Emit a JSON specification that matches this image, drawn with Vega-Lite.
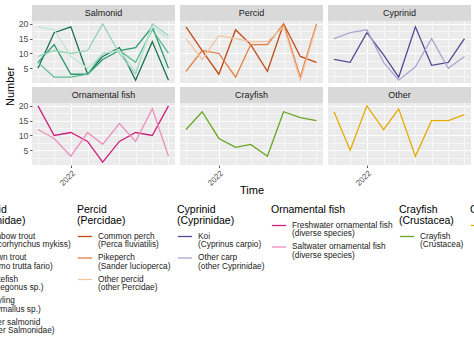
{
  "$schema": "https://vega.github.io/schema/vega-lite/v6.json",
  "padding": {"left": -37, "top": 5, "right": 0, "bottom": 0},
  "datasets": {
    "salmonid": [
      {"species": "Rainbow trout (Oncorhynchus mykiss)", "date": "2021-11-01T00:00", "n": 5},
      {"species": "Rainbow trout (Oncorhynchus mykiss)", "date": "2021-12-01T00:00", "n": 17},
      {"species": "Rainbow trout (Oncorhynchus mykiss)", "date": "2022-01-01T00:00", "n": 19},
      {"species": "Rainbow trout (Oncorhynchus mykiss)", "date": "2022-02-01T00:00", "n": 3},
      {"species": "Rainbow trout (Oncorhynchus mykiss)", "date": "2022-03-01T00:00", "n": 9},
      {"species": "Rainbow trout (Oncorhynchus mykiss)", "date": "2022-04-01T00:00", "n": 12},
      {"species": "Rainbow trout (Oncorhynchus mykiss)", "date": "2022-05-01T00:00", "n": 1},
      {"species": "Rainbow trout (Oncorhynchus mykiss)", "date": "2022-06-01T00:00", "n": 14},
      {"species": "Rainbow trout (Oncorhynchus mykiss)", "date": "2022-07-01T00:00", "n": 1},
      {"species": "Brown trout (Salmo trutta fario)", "date": "2021-11-01T00:00", "n": 7},
      {"species": "Brown trout (Salmo trutta fario)", "date": "2021-12-01T00:00", "n": 13},
      {"species": "Brown trout (Salmo trutta fario)", "date": "2022-01-01T00:00", "n": 3},
      {"species": "Brown trout (Salmo trutta fario)", "date": "2022-02-01T00:00", "n": 3},
      {"species": "Brown trout (Salmo trutta fario)", "date": "2022-03-01T00:00", "n": 8},
      {"species": "Brown trout (Salmo trutta fario)", "date": "2022-04-01T00:00", "n": 11},
      {"species": "Brown trout (Salmo trutta fario)", "date": "2022-05-01T00:00", "n": 12},
      {"species": "Brown trout (Salmo trutta fario)", "date": "2022-06-01T00:00", "n": 19},
      {"species": "Brown trout (Salmo trutta fario)", "date": "2022-07-01T00:00", "n": 5},
      {"species": "Whitefish (Coregonus sp.)", "date": "2021-11-01T00:00", "n": 7},
      {"species": "Whitefish (Coregonus sp.)", "date": "2021-12-01T00:00", "n": 2},
      {"species": "Whitefish (Coregonus sp.)", "date": "2022-01-01T00:00", "n": 2},
      {"species": "Whitefish (Coregonus sp.)", "date": "2022-02-01T00:00", "n": 3},
      {"species": "Whitefish (Coregonus sp.)", "date": "2022-03-01T00:00", "n": 10},
      {"species": "Whitefish (Coregonus sp.)", "date": "2022-04-01T00:00", "n": 11},
      {"species": "Whitefish (Coregonus sp.)", "date": "2022-05-01T00:00", "n": 7},
      {"species": "Whitefish (Coregonus sp.)", "date": "2022-06-01T00:00", "n": 18},
      {"species": "Whitefish (Coregonus sp.)", "date": "2022-07-01T00:00", "n": 10},
      {"species": "Grayling (Thymallus sp.)", "date": "2021-11-01T00:00", "n": 9},
      {"species": "Grayling (Thymallus sp.)", "date": "2021-12-01T00:00", "n": 11},
      {"species": "Grayling (Thymallus sp.)", "date": "2022-01-01T00:00", "n": 10},
      {"species": "Grayling (Thymallus sp.)", "date": "2022-02-01T00:00", "n": 11},
      {"species": "Grayling (Thymallus sp.)", "date": "2022-03-01T00:00", "n": 20},
      {"species": "Grayling (Thymallus sp.)", "date": "2022-04-01T00:00", "n": 10},
      {"species": "Grayling (Thymallus sp.)", "date": "2022-05-01T00:00", "n": 3},
      {"species": "Grayling (Thymallus sp.)", "date": "2022-06-01T00:00", "n": 20},
      {"species": "Grayling (Thymallus sp.)", "date": "2022-07-01T00:00", "n": 16},
      {"species": "Other salmonid (other Salmonidae)", "date": "2021-11-01T00:00", "n": 19},
      {"species": "Other salmonid (other Salmonidae)", "date": "2021-12-01T00:00", "n": 18},
      {"species": "Other salmonid (other Salmonidae)", "date": "2022-01-01T00:00", "n": 9},
      {"species": "Other salmonid (other Salmonidae)", "date": "2022-02-01T00:00", "n": 5},
      {"species": "Other salmonid (other Salmonidae)", "date": "2022-03-01T00:00", "n": 10},
      {"species": "Other salmonid (other Salmonidae)", "date": "2022-04-01T00:00", "n": 11},
      {"species": "Other salmonid (other Salmonidae)", "date": "2022-05-01T00:00", "n": 4},
      {"species": "Other salmonid (other Salmonidae)", "date": "2022-06-01T00:00", "n": 19},
      {"species": "Other salmonid (other Salmonidae)", "date": "2022-07-01T00:00", "n": 15}
    ],
    "percid": [
      {"species": "Common perch (Perca fluviatilis)", "date": "2021-11-01T00:00", "n": 19},
      {"species": "Common perch (Perca fluviatilis)", "date": "2021-12-01T00:00", "n": 11},
      {"species": "Common perch (Perca fluviatilis)", "date": "2022-01-01T00:00", "n": 3},
      {"species": "Common perch (Perca fluviatilis)", "date": "2022-02-01T00:00", "n": 18},
      {"species": "Common perch (Perca fluviatilis)", "date": "2022-03-01T00:00", "n": 13},
      {"species": "Common perch (Perca fluviatilis)", "date": "2022-04-01T00:00", "n": 4},
      {"species": "Common perch (Perca fluviatilis)", "date": "2022-05-01T00:00", "n": 20},
      {"species": "Common perch (Perca fluviatilis)", "date": "2022-06-01T00:00", "n": 9},
      {"species": "Common perch (Perca fluviatilis)", "date": "2022-07-01T00:00", "n": 7},
      {"species": "Pikeperch (Sander lucioperca)", "date": "2021-11-01T00:00", "n": 4},
      {"species": "Pikeperch (Sander lucioperca)", "date": "2021-12-01T00:00", "n": 11},
      {"species": "Pikeperch (Sander lucioperca)", "date": "2022-01-01T00:00", "n": 10},
      {"species": "Pikeperch (Sander lucioperca)", "date": "2022-02-01T00:00", "n": 2},
      {"species": "Pikeperch (Sander lucioperca)", "date": "2022-03-01T00:00", "n": 13},
      {"species": "Pikeperch (Sander lucioperca)", "date": "2022-04-01T00:00", "n": 13},
      {"species": "Pikeperch (Sander lucioperca)", "date": "2022-05-01T00:00", "n": 20},
      {"species": "Pikeperch (Sander lucioperca)", "date": "2022-06-01T00:00", "n": 2},
      {"species": "Pikeperch (Sander lucioperca)", "date": "2022-07-01T00:00", "n": 20},
      {"species": "Other percid (other Percidae)", "date": "2021-11-01T00:00", "n": 15},
      {"species": "Other percid (other Percidae)", "date": "2021-12-01T00:00", "n": 8},
      {"species": "Other percid (other Percidae)", "date": "2022-01-01T00:00", "n": 16},
      {"species": "Other percid (other Percidae)", "date": "2022-02-01T00:00", "n": 15},
      {"species": "Other percid (other Percidae)", "date": "2022-03-01T00:00", "n": 14},
      {"species": "Other percid (other Percidae)", "date": "2022-04-01T00:00", "n": 14},
      {"species": "Other percid (other Percidae)", "date": "2022-05-01T00:00", "n": 19},
      {"species": "Other percid (other Percidae)", "date": "2022-06-01T00:00", "n": 1},
      {"species": "Other percid (other Percidae)", "date": "2022-07-01T00:00", "n": 19}
    ],
    "cyprinid": [
      {"species": "Koi (Cyprinus carpio)", "date": "2021-11-01T00:00", "n": 8},
      {"species": "Koi (Cyprinus carpio)", "date": "2021-12-01T00:00", "n": 7},
      {"species": "Koi (Cyprinus carpio)", "date": "2022-01-01T00:00", "n": 17},
      {"species": "Koi (Cyprinus carpio)", "date": "2022-02-01T00:00", "n": 9.5},
      {"species": "Koi (Cyprinus carpio)", "date": "2022-03-01T00:00", "n": 2},
      {"species": "Koi (Cyprinus carpio)", "date": "2022-04-01T00:00", "n": 19},
      {"species": "Koi (Cyprinus carpio)", "date": "2022-05-01T00:00", "n": 6},
      {"species": "Koi (Cyprinus carpio)", "date": "2022-06-01T00:00", "n": 7},
      {"species": "Koi (Cyprinus carpio)", "date": "2022-07-01T00:00", "n": 15},
      {"species": "Other carp (other Cyprinidae)", "date": "2021-11-01T00:00", "n": 15},
      {"species": "Other carp (other Cyprinidae)", "date": "2021-12-01T00:00", "n": 17},
      {"species": "Other carp (other Cyprinidae)", "date": "2022-01-01T00:00", "n": 18},
      {"species": "Other carp (other Cyprinidae)", "date": "2022-02-01T00:00", "n": 7},
      {"species": "Other carp (other Cyprinidae)", "date": "2022-03-01T00:00", "n": 1},
      {"species": "Other carp (other Cyprinidae)", "date": "2022-04-01T00:00", "n": 5.5},
      {"species": "Other carp (other Cyprinidae)", "date": "2022-05-01T00:00", "n": 15},
      {"species": "Other carp (other Cyprinidae)", "date": "2022-06-01T00:00", "n": 5},
      {"species": "Other carp (other Cyprinidae)", "date": "2022-07-01T00:00", "n": 9}
    ],
    "ornamental": [
      {"species": "Freshwater ornamental fish (diverse species)", "date": "2021-11-01T00:00", "n": 20},
      {"species": "Freshwater ornamental fish (diverse species)", "date": "2021-12-01T00:00", "n": 10},
      {"species": "Freshwater ornamental fish (diverse species)", "date": "2022-01-01T00:00", "n": 11},
      {"species": "Freshwater ornamental fish (diverse species)", "date": "2022-02-01T00:00", "n": 8},
      {"species": "Freshwater ornamental fish (diverse species)", "date": "2022-03-01T00:00", "n": 1},
      {"species": "Freshwater ornamental fish (diverse species)", "date": "2022-04-01T00:00", "n": 8},
      {"species": "Freshwater ornamental fish (diverse species)", "date": "2022-05-01T00:00", "n": 11},
      {"species": "Freshwater ornamental fish (diverse species)", "date": "2022-06-01T00:00", "n": 10},
      {"species": "Freshwater ornamental fish (diverse species)", "date": "2022-07-01T00:00", "n": 20},
      {"species": "Saltwater ornamental fish (diverse species)", "date": "2021-11-01T00:00", "n": 12},
      {"species": "Saltwater ornamental fish (diverse species)", "date": "2021-12-01T00:00", "n": 9},
      {"species": "Saltwater ornamental fish (diverse species)", "date": "2022-01-01T00:00", "n": 3},
      {"species": "Saltwater ornamental fish (diverse species)", "date": "2022-02-01T00:00", "n": 11},
      {"species": "Saltwater ornamental fish (diverse species)", "date": "2022-03-01T00:00", "n": 7},
      {"species": "Saltwater ornamental fish (diverse species)", "date": "2022-04-01T00:00", "n": 14},
      {"species": "Saltwater ornamental fish (diverse species)", "date": "2022-05-01T00:00", "n": 8},
      {"species": "Saltwater ornamental fish (diverse species)", "date": "2022-06-01T00:00", "n": 19},
      {"species": "Saltwater ornamental fish (diverse species)", "date": "2022-07-01T00:00", "n": 3}
    ],
    "crayfish": [
      {"species": "Crayfish (Crustacea)", "date": "2021-11-01T00:00", "n": 12},
      {"species": "Crayfish (Crustacea)", "date": "2021-12-01T00:00", "n": 18},
      {"species": "Crayfish (Crustacea)", "date": "2022-01-01T00:00", "n": 9},
      {"species": "Crayfish (Crustacea)", "date": "2022-02-01T00:00", "n": 6},
      {"species": "Crayfish (Crustacea)", "date": "2022-03-01T00:00", "n": 7},
      {"species": "Crayfish (Crustacea)", "date": "2022-04-01T00:00", "n": 3},
      {"species": "Crayfish (Crustacea)", "date": "2022-05-01T00:00", "n": 18},
      {"species": "Crayfish (Crustacea)", "date": "2022-06-01T00:00", "n": 16},
      {"species": "Crayfish (Crustacea)", "date": "2022-07-01T00:00", "n": 15}
    ],
    "other": [
      {"species": "Other (other fishes)", "date": "2021-11-01T00:00", "n": 18},
      {"species": "Other (other fishes)", "date": "2021-12-01T00:00", "n": 5},
      {"species": "Other (other fishes)", "date": "2022-01-01T00:00", "n": 20},
      {"species": "Other (other fishes)", "date": "2022-02-01T00:00", "n": 12},
      {"species": "Other (other fishes)", "date": "2022-03-01T00:00", "n": 19},
      {"species": "Other (other fishes)", "date": "2022-04-01T00:00", "n": 3},
      {"species": "Other (other fishes)", "date": "2022-05-01T00:00", "n": 15},
      {"species": "Other (other fishes)", "date": "2022-06-01T00:00", "n": 15},
      {"species": "Other (other fishes)", "date": "2022-07-01T00:00", "n": 17}
    ]
  },
  "concat": [
    {
      "width": 143, "height": 78, "view": {"fill": "#ebebeb"},
      "layer": [
        {"data": {"name": "salmonid"}, "mark": {"type": "line", "strokeWidth": 1.3},
         "encoding": {
           "x": {"field": "date", "type": "temporal", "scale": {"domain": [{"year": 2021, "month": 10, "date": 20, "hours": 21, "minutes": 36}, {"year": 2022, "month": 7, "date": 13, "hours": 2, "minutes": 24}], "nice": false},
                 "axis": {"values": [{"year": 2021, "month": 11, "date": 1}, {"year": 2021, "month": 12, "date": 1}, {"year": 2022, "month": 1, "date": 1}, {"year": 2022, "month": 2, "date": 1}, {"year": 2022, "month": 3, "date": 1}, {"year": 2022, "month": 4, "date": 1}, {"year": 2022, "month": 5, "date": 1}, {"year": 2022, "month": 6, "date": 1}, {"year": 2022, "month": 7, "date": 1}],
                          "labels": false, "ticks": false, "domain": false, "grid": true, "gridColor": "#ffffff", "gridWidth": {"condition": {"test": "month(datum.value) == 0", "value": 1.1}, "value": 0.55}, "title": null}},
           "y": {"field": "n", "type": "quantitative", "scale": {"domain": [0.05, 26.344], "nice": false, "zero": false},
                 "axis": {"values": [2.5, 5, 7.5, 10, 12.5, 15, 17.5, 20], "labelExpr": "datum.value % 5 == 0 ? datum.label : ''", "labelOverlap": false, "domain": false, "grid": true, "gridColor": "#ffffff", "gridWidth": {"condition": {"test": "datum.value % 5 == 0", "value": 1.1}, "value": 0.55}, "tickSize": 2.5, "tickColor": "#333333", "tickWidth": 0.8, "tickOpacity": {"condition": {"test": "datum.value % 5 == 0", "value": 1}, "value": 0}, "labelPadding": 1.5, "labelFontSize": 8.8, "labelColor": "#4d4d4d", "title": "Number", "titleY": 81, "titleFontSize": 11, "titleColor": "#000000", "titleFontWeight": "normal", "titlePadding": 3}},
           "color": {"field": "species", "type": "nominal", "legend": null,
                     "scale": {"domain": ["Rainbow trout (Oncorhynchus mykiss)", "Brown trout (Salmo trutta fario)", "Whitefish (Coregonus sp.)", "Grayling (Thymallus sp.)", "Other salmonid (other Salmonidae)"], "range": ["#17704f", "#2a9a72", "#5bbb97", "#95d3bb", "#c0e6d6"]}}
         }},
        {"data": {"values": [{"family": "Salmonid"}]}, "mark": {"type": "rect", "color": "#d9d9d9"},
         "encoding": {"y": {"datum": 20.95, "type": "quantitative",
                 "axis": {"values": [2.5, 5, 7.5, 10, 12.5, 15, 17.5, 20], "labelExpr": "datum.value % 5 == 0 ? datum.label : ''", "labelOverlap": false, "domain": false, "grid": true, "gridColor": "#ffffff", "gridWidth": {"condition": {"test": "datum.value % 5 == 0", "value": 1.1}, "value": 0.55}, "tickSize": 2.5, "tickColor": "#333333", "tickWidth": 0.8, "tickOpacity": {"condition": {"test": "datum.value % 5 == 0", "value": 1}, "value": 0}, "labelPadding": 1.5, "labelFontSize": 8.8, "labelColor": "#4d4d4d", "title": "Number", "titleY": 81, "titleFontSize": 11, "titleColor": "#000000", "titleFontWeight": "normal", "titlePadding": 3}},
                      "y2": {"datum": 26.344}}},
        {"data": {"values": [{"family": "Salmonid"}]}, "mark": {"type": "text", "fontSize": 9, "color": "#1a1a1a"},
         "encoding": {"y": {"datum": 23.65, "type": "quantitative",
                 "axis": {"values": [2.5, 5, 7.5, 10, 12.5, 15, 17.5, 20], "labelExpr": "datum.value % 5 == 0 ? datum.label : ''", "labelOverlap": false, "domain": false, "grid": true, "gridColor": "#ffffff", "gridWidth": {"condition": {"test": "datum.value % 5 == 0", "value": 1.1}, "value": 0.55}, "tickSize": 2.5, "tickColor": "#333333", "tickWidth": 0.8, "tickOpacity": {"condition": {"test": "datum.value % 5 == 0", "value": 1}, "value": 0}, "labelPadding": 1.5, "labelFontSize": 8.8, "labelColor": "#4d4d4d", "title": "Number", "titleY": 81, "titleFontSize": 11, "titleColor": "#000000", "titleFontWeight": "normal", "titlePadding": 3}},
                      "text": {"field": "family"}}}
      ]
    },
    {
      "width": 143, "height": 78, "view": {"fill": "#ebebeb"},
      "layer": [
        {"data": {"name": "percid"}, "mark": {"type": "line", "strokeWidth": 1.3},
         "encoding": {
           "x": {"field": "date", "type": "temporal", "scale": {"domain": [{"year": 2021, "month": 10, "date": 20, "hours": 21, "minutes": 36}, {"year": 2022, "month": 7, "date": 13, "hours": 2, "minutes": 24}], "nice": false},
                 "axis": {"values": [{"year": 2021, "month": 11, "date": 1}, {"year": 2021, "month": 12, "date": 1}, {"year": 2022, "month": 1, "date": 1}, {"year": 2022, "month": 2, "date": 1}, {"year": 2022, "month": 3, "date": 1}, {"year": 2022, "month": 4, "date": 1}, {"year": 2022, "month": 5, "date": 1}, {"year": 2022, "month": 6, "date": 1}, {"year": 2022, "month": 7, "date": 1}],
                          "labels": false, "ticks": false, "domain": false, "grid": true, "gridColor": "#ffffff", "gridWidth": {"condition": {"test": "month(datum.value) == 0", "value": 1.1}, "value": 0.55}, "title": null}},
           "y": {"field": "n", "type": "quantitative", "scale": {"domain": [0.05, 26.344], "nice": false, "zero": false},
                 "axis": {"values": [2.5, 5, 7.5, 10, 12.5, 15, 17.5, 20], "labels": false, "ticks": false, "domain": false, "grid": true, "gridColor": "#ffffff", "gridWidth": {"condition": {"test": "datum.value % 5 == 0", "value": 1.1}, "value": 0.55}, "title": null}},
           "color": {"field": "species", "type": "nominal", "legend": null,
                     "scale": {"domain": ["Common perch (Perca fluviatilis)", "Pikeperch (Sander lucioperca)", "Other percid (other Percidae)"], "range": ["#bf4a14", "#e07d3f", "#f2c5a0"]}}
         }},
        {"data": {"values": [{"family": "Percid"}]}, "mark": {"type": "rect", "color": "#d9d9d9"},
         "encoding": {"y": {"datum": 20.95, "type": "quantitative", "axis": {"values": [2.5, 5, 7.5, 10, 12.5, 15, 17.5, 20], "labels": false, "ticks": false, "domain": false, "grid": true, "gridColor": "#ffffff", "gridWidth": {"condition": {"test": "datum.value % 5 == 0", "value": 1.1}, "value": 0.55}, "title": null}}, "y2": {"datum": 26.344}}},
        {"data": {"values": [{"family": "Percid"}]}, "mark": {"type": "text", "fontSize": 9, "color": "#1a1a1a"},
         "encoding": {"y": {"datum": 23.65, "type": "quantitative", "axis": {"values": [2.5, 5, 7.5, 10, 12.5, 15, 17.5, 20], "labels": false, "ticks": false, "domain": false, "grid": true, "gridColor": "#ffffff", "gridWidth": {"condition": {"test": "datum.value % 5 == 0", "value": 1.1}, "value": 0.55}, "title": null}}, "text": {"field": "family"}}}
      ]
    },
    {
      "width": 143, "height": 78, "view": {"fill": "#ebebeb"},
      "layer": [
        {"data": {"name": "cyprinid"}, "mark": {"type": "line", "strokeWidth": 1.3},
         "encoding": {
           "x": {"field": "date", "type": "temporal", "scale": {"domain": [{"year": 2021, "month": 10, "date": 20, "hours": 21, "minutes": 36}, {"year": 2022, "month": 7, "date": 13, "hours": 2, "minutes": 24}], "nice": false},
                 "axis": {"values": [{"year": 2021, "month": 11, "date": 1}, {"year": 2021, "month": 12, "date": 1}, {"year": 2022, "month": 1, "date": 1}, {"year": 2022, "month": 2, "date": 1}, {"year": 2022, "month": 3, "date": 1}, {"year": 2022, "month": 4, "date": 1}, {"year": 2022, "month": 5, "date": 1}, {"year": 2022, "month": 6, "date": 1}, {"year": 2022, "month": 7, "date": 1}],
                          "labels": false, "ticks": false, "domain": false, "grid": true, "gridColor": "#ffffff", "gridWidth": {"condition": {"test": "month(datum.value) == 0", "value": 1.1}, "value": 0.55}, "title": null}},
           "y": {"field": "n", "type": "quantitative", "scale": {"domain": [0.05, 26.344], "nice": false, "zero": false},
                 "axis": {"values": [2.5, 5, 7.5, 10, 12.5, 15, 17.5, 20], "labels": false, "ticks": false, "domain": false, "grid": true, "gridColor": "#ffffff", "gridWidth": {"condition": {"test": "datum.value % 5 == 0", "value": 1.1}, "value": 0.55}, "title": null}},
           "color": {"field": "species", "type": "nominal", "legend": null,
                     "scale": {"domain": ["Koi (Cyprinus carpio)", "Other carp (other Cyprinidae)"], "range": ["#534a93", "#aaa6d2"]}}
         }},
        {"data": {"values": [{"family": "Cyprinid"}]}, "mark": {"type": "rect", "color": "#d9d9d9"},
         "encoding": {"y": {"datum": 20.95, "type": "quantitative", "axis": {"values": [2.5, 5, 7.5, 10, 12.5, 15, 17.5, 20], "labels": false, "ticks": false, "domain": false, "grid": true, "gridColor": "#ffffff", "gridWidth": {"condition": {"test": "datum.value % 5 == 0", "value": 1.1}, "value": 0.55}, "title": null}}, "y2": {"datum": 26.344}}},
        {"data": {"values": [{"family": "Cyprinid"}]}, "mark": {"type": "text", "fontSize": 9, "color": "#1a1a1a"},
         "encoding": {"y": {"datum": 23.65, "type": "quantitative", "axis": {"values": [2.5, 5, 7.5, 10, 12.5, 15, 17.5, 20], "labels": false, "ticks": false, "domain": false, "grid": true, "gridColor": "#ffffff", "gridWidth": {"condition": {"test": "datum.value % 5 == 0", "value": 1.1}, "value": 0.55}, "title": null}}, "text": {"field": "family"}}}
      ]
    },
    {
      "width": 143, "height": 78, "view": {"fill": "#ebebeb"},
      "layer": [
        {"data": {"name": "ornamental"}, "mark": {"type": "line", "strokeWidth": 1.3},
         "encoding": {
           "x": {"field": "date", "type": "temporal", "scale": {"domain": [{"year": 2021, "month": 10, "date": 20, "hours": 21, "minutes": 36}, {"year": 2022, "month": 7, "date": 13, "hours": 2, "minutes": 24}], "nice": false},
                 "axis": {"values": [{"year": 2021, "month": 11, "date": 1}, {"year": 2021, "month": 12, "date": 1}, {"year": 2022, "month": 1, "date": 1}, {"year": 2022, "month": 2, "date": 1}, {"year": 2022, "month": 3, "date": 1}, {"year": 2022, "month": 4, "date": 1}, {"year": 2022, "month": 5, "date": 1}, {"year": 2022, "month": 6, "date": 1}, {"year": 2022, "month": 7, "date": 1}],
                          "labelExpr": "month(datum.value) == 0 ? timeFormat(datum.value, '%Y') : ''", "labelOverlap": false, "labelAngle": -45, "labelFontSize": 8, "labelColor": "#4d4d4d", "labelPadding": 1.5,
                          "tickSize": 2.5, "tickColor": "#333333", "tickWidth": 0.8, "tickOpacity": {"condition": {"test": "month(datum.value) == 0", "value": 1}, "value": 0},
                          "domain": false, "grid": true, "gridColor": "#ffffff", "gridWidth": {"condition": {"test": "month(datum.value) == 0", "value": 1.1}, "value": 0.55}, "title": null}},
           "y": {"field": "n", "type": "quantitative", "scale": {"domain": [0.05, 26.344], "nice": false, "zero": false},
                 "axis": {"values": [2.5, 5, 7.5, 10, 12.5, 15, 17.5, 20], "labelExpr": "datum.value % 5 == 0 ? datum.label : ''", "labelOverlap": false, "domain": false, "grid": true, "gridColor": "#ffffff", "gridWidth": {"condition": {"test": "datum.value % 5 == 0", "value": 1.1}, "value": 0.55}, "tickSize": 2.5, "tickColor": "#333333", "tickWidth": 0.8, "tickOpacity": {"condition": {"test": "datum.value % 5 == 0", "value": 1}, "value": 0}, "labelPadding": 1.5, "labelFontSize": 8.8, "labelColor": "#4d4d4d", "title": null}},
           "color": {"field": "species", "type": "nominal", "legend": null,
                     "scale": {"domain": ["Freshwater ornamental fish (diverse species)", "Saltwater ornamental fish (diverse species)"], "range": ["#cf1d7b", "#eb8fbd"]}}
         }},
        {"data": {"values": [{"family": "Ornamental fish"}]}, "mark": {"type": "rect", "color": "#d9d9d9"},
         "encoding": {"y": {"datum": 20.95, "type": "quantitative",
                 "axis": {"values": [2.5, 5, 7.5, 10, 12.5, 15, 17.5, 20], "labelExpr": "datum.value % 5 == 0 ? datum.label : ''", "labelOverlap": false, "domain": false, "grid": true, "gridColor": "#ffffff", "gridWidth": {"condition": {"test": "datum.value % 5 == 0", "value": 1.1}, "value": 0.55}, "tickSize": 2.5, "tickColor": "#333333", "tickWidth": 0.8, "tickOpacity": {"condition": {"test": "datum.value % 5 == 0", "value": 1}, "value": 0}, "labelPadding": 1.5, "labelFontSize": 8.8, "labelColor": "#4d4d4d", "title": null}},
                      "y2": {"datum": 26.344}}},
        {"data": {"values": [{"family": "Ornamental fish"}]}, "mark": {"type": "text", "fontSize": 9, "color": "#1a1a1a"},
         "encoding": {"y": {"datum": 23.65, "type": "quantitative",
                 "axis": {"values": [2.5, 5, 7.5, 10, 12.5, 15, 17.5, 20], "labelExpr": "datum.value % 5 == 0 ? datum.label : ''", "labelOverlap": false, "domain": false, "grid": true, "gridColor": "#ffffff", "gridWidth": {"condition": {"test": "datum.value % 5 == 0", "value": 1.1}, "value": 0.55}, "tickSize": 2.5, "tickColor": "#333333", "tickWidth": 0.8, "tickOpacity": {"condition": {"test": "datum.value % 5 == 0", "value": 1}, "value": 0}, "labelPadding": 1.5, "labelFontSize": 8.8, "labelColor": "#4d4d4d", "title": null}},
                      "text": {"field": "family"}}}
      ]
    },
    {
      "width": 143, "height": 78, "view": {"fill": "#ebebeb"},
      "layer": [
        {"data": {"values": [{"family": "Crayfish"}]}, "mark": {"type": "rect", "color": "#d9d9d9"},
         "encoding": {"y": {"datum": 20.95, "type": "quantitative", "scale": {"domain": [0.05, 26.344], "nice": false, "zero": false}, "axis": {"values": [2.5, 5, 7.5, 10, 12.5, 15, 17.5, 20], "labels": false, "ticks": false, "domain": false, "grid": true, "gridColor": "#ffffff", "gridWidth": {"condition": {"test": "datum.value % 5 == 0", "value": 1.1}, "value": 0.55}, "title": null}}, "y2": {"datum": 26.344}}},
        {"data": {"values": [{"family": "Crayfish"}]}, "mark": {"type": "text", "fontSize": 9, "color": "#1a1a1a"},
         "encoding": {"y": {"datum": 23.65, "type": "quantitative", "axis": {"values": [2.5, 5, 7.5, 10, 12.5, 15, 17.5, 20], "labels": false, "ticks": false, "domain": false, "grid": true, "gridColor": "#ffffff", "gridWidth": {"condition": {"test": "datum.value % 5 == 0", "value": 1.1}, "value": 0.55}, "title": null}}, "text": {"field": "family"}}},
        {"data": {"name": "salmonid"}, "transform": [{"filter": "false"}], "mark": "line",
         "encoding": {
           "x": {"field": "date", "type": "temporal", "scale": {"domain": [{"year": 2021, "month": 10, "date": 20, "hours": 21, "minutes": 36}, {"year": 2022, "month": 7, "date": 13, "hours": 2, "minutes": 24}], "nice": false},
                 "axis": {"values": [{"year": 2021, "month": 11, "date": 1}, {"year": 2021, "month": 12, "date": 1}, {"year": 2022, "month": 1, "date": 1}, {"year": 2022, "month": 2, "date": 1}, {"year": 2022, "month": 3, "date": 1}, {"year": 2022, "month": 4, "date": 1}, {"year": 2022, "month": 5, "date": 1}, {"year": 2022, "month": 6, "date": 1}, {"year": 2022, "month": 7, "date": 1}], "labelExpr": "month(datum.value) == 0 ? timeFormat(datum.value, '%Y') : ''", "labelOverlap": false, "labelAngle": -45, "labelFontSize": 8, "labelColor": "#4d4d4d", "labelPadding": 1.5, "tickSize": 2.5, "tickColor": "#333333", "tickWidth": 0.8, "tickOpacity": {"condition": {"test": "month(datum.value) == 0", "value": 1}, "value": 0}, "domain": false, "grid": true, "gridColor": "#ffffff", "gridWidth": {"condition": {"test": "month(datum.value) == 0", "value": 1.1}, "value": 0.55}, "title": "Time", "titleFontSize": 11, "titleColor": "#000000", "titleFontWeight": "normal", "titlePadding": -3}},
           "y": {"field": "n", "type": "quantitative", "axis": {"values": [2.5, 5, 7.5, 10, 12.5, 15, 17.5, 20], "labels": false, "ticks": false, "domain": false, "grid": true, "gridColor": "#ffffff", "gridWidth": {"condition": {"test": "datum.value % 5 == 0", "value": 1.1}, "value": 0.55}, "title": null}},
           "color": {"field": "species", "type": "nominal", "scale": {"domain": ["Rainbow trout (Oncorhynchus mykiss)", "Brown trout (Salmo trutta fario)", "Whitefish (Coregonus sp.)", "Grayling (Thymallus sp.)", "Other salmonid (other Salmonidae)"], "range": ["#17704f", "#2a9a72", "#5bbb97", "#95d3bb", "#c0e6d6"]},
             "legend": {"title": ["Salmonid", "(Salmonidae)"], "labelExpr": "split(replace(datum.label, ' (', '|('), '|')"}}}},
        {"data": {"name": "percid"}, "transform": [{"filter": "false"}], "mark": "line",
         "encoding": {
           "x": {"field": "date", "type": "temporal",
                 "axis": {"values": [{"year": 2021, "month": 11, "date": 1}, {"year": 2021, "month": 12, "date": 1}, {"year": 2022, "month": 1, "date": 1}, {"year": 2022, "month": 2, "date": 1}, {"year": 2022, "month": 3, "date": 1}, {"year": 2022, "month": 4, "date": 1}, {"year": 2022, "month": 5, "date": 1}, {"year": 2022, "month": 6, "date": 1}, {"year": 2022, "month": 7, "date": 1}], "labelExpr": "month(datum.value) == 0 ? timeFormat(datum.value, '%Y') : ''", "labelOverlap": false, "labelAngle": -45, "labelFontSize": 8, "labelColor": "#4d4d4d", "labelPadding": 1.5, "tickSize": 2.5, "tickColor": "#333333", "tickWidth": 0.8, "tickOpacity": {"condition": {"test": "month(datum.value) == 0", "value": 1}, "value": 0}, "domain": false, "grid": true, "gridColor": "#ffffff", "gridWidth": {"condition": {"test": "month(datum.value) == 0", "value": 1.1}, "value": 0.55}, "title": "Time", "titleFontSize": 11, "titleColor": "#000000", "titleFontWeight": "normal", "titlePadding": -3}},
           "y": {"field": "n", "type": "quantitative", "axis": {"values": [2.5, 5, 7.5, 10, 12.5, 15, 17.5, 20], "labels": false, "ticks": false, "domain": false, "grid": true, "gridColor": "#ffffff", "gridWidth": {"condition": {"test": "datum.value % 5 == 0", "value": 1.1}, "value": 0.55}, "title": null}},
           "color": {"field": "species", "type": "nominal", "scale": {"domain": ["Common perch (Perca fluviatilis)", "Pikeperch (Sander lucioperca)", "Other percid (other Percidae)"], "range": ["#bf4a14", "#e07d3f", "#f2c5a0"]},
             "legend": {"title": ["Percid", "(Percidae)"], "labelExpr": "split(replace(datum.label, ' (', '|('), '|')"}}}},
        {"data": {"name": "cyprinid"}, "transform": [{"filter": "false"}], "mark": "line",
         "encoding": {
           "x": {"field": "date", "type": "temporal",
                 "axis": {"values": [{"year": 2021, "month": 11, "date": 1}, {"year": 2021, "month": 12, "date": 1}, {"year": 2022, "month": 1, "date": 1}, {"year": 2022, "month": 2, "date": 1}, {"year": 2022, "month": 3, "date": 1}, {"year": 2022, "month": 4, "date": 1}, {"year": 2022, "month": 5, "date": 1}, {"year": 2022, "month": 6, "date": 1}, {"year": 2022, "month": 7, "date": 1}], "labelExpr": "month(datum.value) == 0 ? timeFormat(datum.value, '%Y') : ''", "labelOverlap": false, "labelAngle": -45, "labelFontSize": 8, "labelColor": "#4d4d4d", "labelPadding": 1.5, "tickSize": 2.5, "tickColor": "#333333", "tickWidth": 0.8, "tickOpacity": {"condition": {"test": "month(datum.value) == 0", "value": 1}, "value": 0}, "domain": false, "grid": true, "gridColor": "#ffffff", "gridWidth": {"condition": {"test": "month(datum.value) == 0", "value": 1.1}, "value": 0.55}, "title": "Time", "titleFontSize": 11, "titleColor": "#000000", "titleFontWeight": "normal", "titlePadding": -3}},
           "y": {"field": "n", "type": "quantitative", "axis": {"values": [2.5, 5, 7.5, 10, 12.5, 15, 17.5, 20], "labels": false, "ticks": false, "domain": false, "grid": true, "gridColor": "#ffffff", "gridWidth": {"condition": {"test": "datum.value % 5 == 0", "value": 1.1}, "value": 0.55}, "title": null}},
           "color": {"field": "species", "type": "nominal", "scale": {"domain": ["Koi (Cyprinus carpio)", "Other carp (other Cyprinidae)"], "range": ["#534a93", "#aaa6d2"]},
             "legend": {"title": ["Cyprinid", "(Cyprinidae)"], "labelExpr": "split(replace(datum.label, ' (', '|('), '|')"}}}},
        {"data": {"name": "ornamental"}, "transform": [{"filter": "false"}], "mark": "line",
         "encoding": {
           "x": {"field": "date", "type": "temporal",
                 "axis": {"values": [{"year": 2021, "month": 11, "date": 1}, {"year": 2021, "month": 12, "date": 1}, {"year": 2022, "month": 1, "date": 1}, {"year": 2022, "month": 2, "date": 1}, {"year": 2022, "month": 3, "date": 1}, {"year": 2022, "month": 4, "date": 1}, {"year": 2022, "month": 5, "date": 1}, {"year": 2022, "month": 6, "date": 1}, {"year": 2022, "month": 7, "date": 1}], "labelExpr": "month(datum.value) == 0 ? timeFormat(datum.value, '%Y') : ''", "labelOverlap": false, "labelAngle": -45, "labelFontSize": 8, "labelColor": "#4d4d4d", "labelPadding": 1.5, "tickSize": 2.5, "tickColor": "#333333", "tickWidth": 0.8, "tickOpacity": {"condition": {"test": "month(datum.value) == 0", "value": 1}, "value": 0}, "domain": false, "grid": true, "gridColor": "#ffffff", "gridWidth": {"condition": {"test": "month(datum.value) == 0", "value": 1.1}, "value": 0.55}, "title": "Time", "titleFontSize": 11, "titleColor": "#000000", "titleFontWeight": "normal", "titlePadding": -3}},
           "y": {"field": "n", "type": "quantitative", "axis": {"values": [2.5, 5, 7.5, 10, 12.5, 15, 17.5, 20], "labels": false, "ticks": false, "domain": false, "grid": true, "gridColor": "#ffffff", "gridWidth": {"condition": {"test": "datum.value % 5 == 0", "value": 1.1}, "value": 0.55}, "title": null}},
           "color": {"field": "species", "type": "nominal", "scale": {"domain": ["Freshwater ornamental fish (diverse species)", "Saltwater ornamental fish (diverse species)"], "range": ["#cf1d7b", "#eb8fbd"]},
             "legend": {"title": "Ornamental fish", "labelExpr": "split(replace(datum.label, ' (', '|('), '|')"}}}},
        {"data": {"name": "crayfish"}, "mark": {"type": "line", "strokeWidth": 1.3},
         "encoding": {
           "x": {"field": "date", "type": "temporal",
                 "axis": {"values": [{"year": 2021, "month": 11, "date": 1}, {"year": 2021, "month": 12, "date": 1}, {"year": 2022, "month": 1, "date": 1}, {"year": 2022, "month": 2, "date": 1}, {"year": 2022, "month": 3, "date": 1}, {"year": 2022, "month": 4, "date": 1}, {"year": 2022, "month": 5, "date": 1}, {"year": 2022, "month": 6, "date": 1}, {"year": 2022, "month": 7, "date": 1}], "labelExpr": "month(datum.value) == 0 ? timeFormat(datum.value, '%Y') : ''", "labelOverlap": false, "labelAngle": -45, "labelFontSize": 8, "labelColor": "#4d4d4d", "labelPadding": 1.5, "tickSize": 2.5, "tickColor": "#333333", "tickWidth": 0.8, "tickOpacity": {"condition": {"test": "month(datum.value) == 0", "value": 1}, "value": 0}, "domain": false, "grid": true, "gridColor": "#ffffff", "gridWidth": {"condition": {"test": "month(datum.value) == 0", "value": 1.1}, "value": 0.55}, "title": "Time", "titleFontSize": 11, "titleColor": "#000000", "titleFontWeight": "normal", "titlePadding": -3}},
           "y": {"field": "n", "type": "quantitative", "axis": {"values": [2.5, 5, 7.5, 10, 12.5, 15, 17.5, 20], "labels": false, "ticks": false, "domain": false, "grid": true, "gridColor": "#ffffff", "gridWidth": {"condition": {"test": "datum.value % 5 == 0", "value": 1.1}, "value": 0.55}, "title": null}},
           "color": {"field": "species", "type": "nominal", "scale": {"domain": ["Crayfish (Crustacea)"], "range": ["#66a61e"]},
             "legend": {"title": ["Crayfish", "(Crustacea)"], "labelExpr": "split(replace(datum.label, ' (', '|('), '|')"}}}},
        {"data": {"name": "other"}, "transform": [{"filter": "false"}], "mark": "line",
         "encoding": {
           "x": {"field": "date", "type": "temporal",
                 "axis": {"values": [{"year": 2021, "month": 11, "date": 1}, {"year": 2021, "month": 12, "date": 1}, {"year": 2022, "month": 1, "date": 1}, {"year": 2022, "month": 2, "date": 1}, {"year": 2022, "month": 3, "date": 1}, {"year": 2022, "month": 4, "date": 1}, {"year": 2022, "month": 5, "date": 1}, {"year": 2022, "month": 6, "date": 1}, {"year": 2022, "month": 7, "date": 1}], "labelExpr": "month(datum.value) == 0 ? timeFormat(datum.value, '%Y') : ''", "labelOverlap": false, "labelAngle": -45, "labelFontSize": 8, "labelColor": "#4d4d4d", "labelPadding": 1.5, "tickSize": 2.5, "tickColor": "#333333", "tickWidth": 0.8, "tickOpacity": {"condition": {"test": "month(datum.value) == 0", "value": 1}, "value": 0}, "domain": false, "grid": true, "gridColor": "#ffffff", "gridWidth": {"condition": {"test": "month(datum.value) == 0", "value": 1.1}, "value": 0.55}, "title": "Time", "titleFontSize": 11, "titleColor": "#000000", "titleFontWeight": "normal", "titlePadding": -3}},
           "y": {"field": "n", "type": "quantitative", "axis": {"values": [2.5, 5, 7.5, 10, 12.5, 15, 17.5, 20], "labels": false, "ticks": false, "domain": false, "grid": true, "gridColor": "#ffffff", "gridWidth": {"condition": {"test": "datum.value % 5 == 0", "value": 1.1}, "value": 0.55}, "title": null}},
           "color": {"field": "species", "type": "nominal", "scale": {"domain": ["Other (other fishes)"], "range": ["#e6ab02"]},
             "legend": {"title": "Other", "labelExpr": "split(replace(datum.label, ' (', '|('), '|')"}}}}
      ],
      "resolve": {"scale": {"color": "independent"}, "legend": {"color": "independent"}}
    },
    {
      "width": 143, "height": 78, "view": {"fill": "#ebebeb"},
      "layer": [
        {"data": {"name": "other"}, "mark": {"type": "line", "strokeWidth": 1.3},
         "encoding": {
           "x": {"field": "date", "type": "temporal", "scale": {"domain": [{"year": 2021, "month": 10, "date": 20, "hours": 21, "minutes": 36}, {"year": 2022, "month": 7, "date": 13, "hours": 2, "minutes": 24}], "nice": false},
                 "axis": {"values": [{"year": 2021, "month": 11, "date": 1}, {"year": 2021, "month": 12, "date": 1}, {"year": 2022, "month": 1, "date": 1}, {"year": 2022, "month": 2, "date": 1}, {"year": 2022, "month": 3, "date": 1}, {"year": 2022, "month": 4, "date": 1}, {"year": 2022, "month": 5, "date": 1}, {"year": 2022, "month": 6, "date": 1}, {"year": 2022, "month": 7, "date": 1}],
                          "labelExpr": "month(datum.value) == 0 ? timeFormat(datum.value, '%Y') : ''", "labelOverlap": false, "labelAngle": -45, "labelFontSize": 8, "labelColor": "#4d4d4d", "labelPadding": 1.5,
                          "tickSize": 2.5, "tickColor": "#333333", "tickWidth": 0.8, "tickOpacity": {"condition": {"test": "month(datum.value) == 0", "value": 1}, "value": 0},
                          "domain": false, "grid": true, "gridColor": "#ffffff", "gridWidth": {"condition": {"test": "month(datum.value) == 0", "value": 1.1}, "value": 0.55}, "title": null}},
           "y": {"field": "n", "type": "quantitative", "scale": {"domain": [0.05, 26.344], "nice": false, "zero": false},
                 "axis": {"values": [2.5, 5, 7.5, 10, 12.5, 15, 17.5, 20], "labels": false, "ticks": false, "domain": false, "grid": true, "gridColor": "#ffffff", "gridWidth": {"condition": {"test": "datum.value % 5 == 0", "value": 1.1}, "value": 0.55}, "title": null}},
           "color": {"field": "species", "type": "nominal", "legend": null,
                     "scale": {"domain": ["Other (other fishes)"], "range": ["#e6ab02"]}}
         }},
        {"data": {"values": [{"family": "Other"}]}, "mark": {"type": "rect", "color": "#d9d9d9"},
         "encoding": {"y": {"datum": 20.95, "type": "quantitative", "axis": {"values": [2.5, 5, 7.5, 10, 12.5, 15, 17.5, 20], "labels": false, "ticks": false, "domain": false, "grid": true, "gridColor": "#ffffff", "gridWidth": {"condition": {"test": "datum.value % 5 == 0", "value": 1.1}, "value": 0.55}, "title": null}}, "y2": {"datum": 26.344}}},
        {"data": {"values": [{"family": "Other"}]}, "mark": {"type": "text", "fontSize": 9, "color": "#1a1a1a"},
         "encoding": {"y": {"datum": 23.65, "type": "quantitative", "axis": {"values": [2.5, 5, 7.5, 10, 12.5, 15, 17.5, 20], "labels": false, "ticks": false, "domain": false, "grid": true, "gridColor": "#ffffff", "gridWidth": {"condition": {"test": "datum.value % 5 == 0", "value": 1.1}, "value": 0.55}, "title": null}}, "text": {"field": "family"}}}
      ]
    }
  ],
  "columns": 3,
  "spacing": {"row": 4, "column": 5},
  "bounds": "flush",
  "resolve": {"scale": {"color": "independent"}, "legend": {"color": "independent"}},
  "config": {
    "font": "Liberation Sans",
    "view": {"stroke": null},
    "axis": {"labelOverlap": false},
    "style": {"guide-label": {"lineHeight": 8.6}, "guide-title": {"lineHeight": 11}},
    "legend": {
      "orient": "bottom", "direction": "vertical",
      "symbolType": "stroke", "symbolSize": 200, "symbolStrokeWidth": 1.3,
      "titleFontSize": 10.5, "titleFontWeight": "normal", "titleColor": "#000000", "titleLimit": 300, "titlePadding": 2, "titleLineHeight": 11,
      "labelFontSize": 8.3, "labelColor": "#1a1a1a", "labelLimit": 300, "labelOffset": 5, "rowPadding": 1.5,
      "offset": 9,
      "layout": {"bottom": {"anchor": "middle", "margin": 6}}
    }
  }
}
